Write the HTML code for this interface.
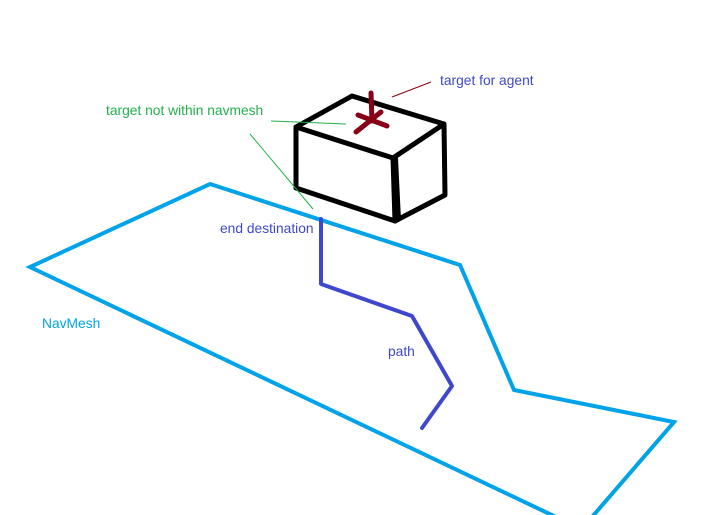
<!DOCTYPE html>
<html><head><style>
html,body{margin:0;padding:0;background:#fff;}
svg{display:block;}
text{font-family:"Liberation Sans",sans-serif;font-size:13.8px;}
</style></head><body>
<svg width="703" height="515" viewBox="0 0 703 515" xmlns="http://www.w3.org/2000/svg">
<polyline points="556,517 30,267 210,184 460,265 514,390 674,422 592,517" fill="none" stroke="#00a2e8" stroke-width="4" stroke-linejoin="miter"/>
<polyline points="321,219 321,284 412,316 452,386 422,428" fill="none" stroke="#3f48cc" stroke-width="4" stroke-linejoin="round" stroke-linecap="round"/>
<g fill="none" stroke="#000" stroke-width="5" stroke-linejoin="round" stroke-linecap="round">
<polygon points="296,127 352,96 444,124 393,158"/>
<polyline points="296,127 296,188 395,221 445,195 444,124"/>
<polyline points="393,158 395,221"/>
</g>
<polygon points="391,160 398,158 401,220 394,221" fill="#000"/>
<g stroke="#880015" stroke-width="5" stroke-linecap="round">
<line x1="371" y1="93" x2="372" y2="121"/>
<line x1="356" y1="132" x2="381" y2="112"/>
<line x1="358" y1="115" x2="387" y2="126"/>
</g>
<line x1="392" y1="97" x2="431" y2="82" stroke="#880015" stroke-width="1"/>
<line x1="271" y1="121" x2="346" y2="124" stroke="#22b14c" stroke-width="1"/>
<line x1="250" y1="134" x2="313" y2="209" stroke="#22b14c" stroke-width="1"/>
<text x="440" y="85" fill="#3f48cc">target for agent</text>
<text x="106" y="115" fill="#22b14c">target not within navmesh</text>
<text x="220" y="233" fill="#3f48cc">end destination</text>
<text x="42" y="328" fill="#00a2e8">NavMesh</text>
<text x="388" y="356" fill="#3f48cc">path</text>
</svg>
</body></html>
